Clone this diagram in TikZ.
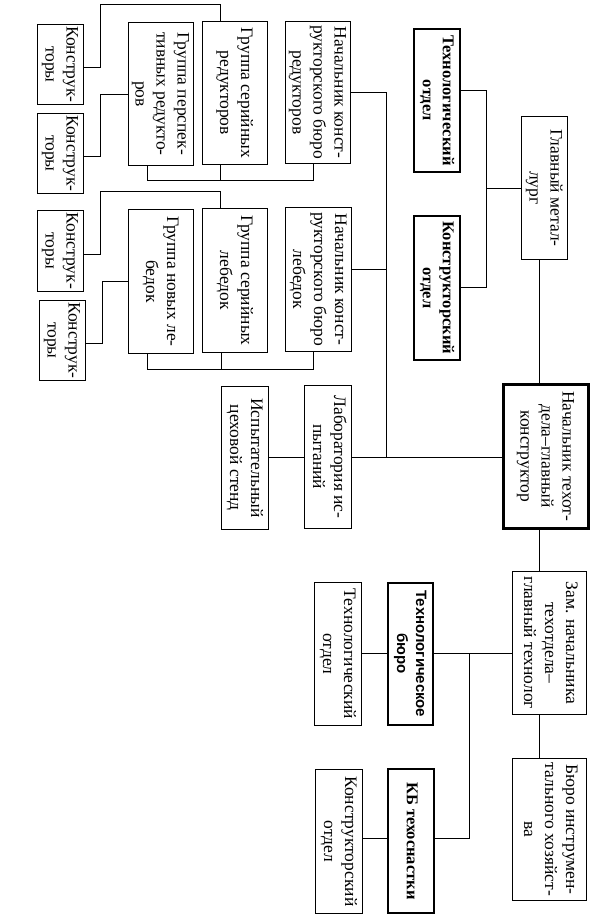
\documentclass[tikz,border=0pt]{standalone}
\usepackage{fontspec}
\setmainfont{Liberation Serif}
\newfontfamily\sansbold{Liberation Sans}
\newcommand{\vt}[1]{\rotatebox{-90}{\begin{tabular}{@{}c@{}}#1\end{tabular}}}
\begin{document}
\begin{tikzpicture}[x=1pt,y=-1pt,
  box/.style={draw, line width=0.8pt, inner sep=0pt, anchor=north west, font=\fontsize{17.5}{21}\selectfont},
  thickbox/.style={box, line width=1.8pt, font=\fontsize{16.5}{20}\selectfont\bfseries},
  mainbox/.style={box, line width=2.6pt},
  wire/.style={line width=0.8pt}]
\useasboundingbox (0,0) rectangle (596,924);
% ---- reducers section
\node[box, minimum width=46, minimum height=80] (k1) at (37,24) {\vt{Конструк-\\торы}};
\node[box, minimum width=46, minimum height=80] (k2) at (37,113) {\vt{Конструк-\\торы}};
\node[box, minimum width=65, minimum height=143] (gp) at (128,22) {\vt{Группа перспек-\\тивных редукто-\\ров}};
\node[box, minimum width=65, minimum height=143] (gs) at (202,21) {\vt{Группа серийных\\редукторов}};
\node[box, minimum width=65, minimum height=142] (nr) at (285,21) {\vt{Начальник конст-\\рукторского бюро\\редукторов}};
\node[thickbox, minimum width=46, minimum height=143] (to1) at (413,28) {\vt{Технологический\\отдел}};
\node[box, minimum width=46, minimum height=143] (gm) at (521,116) {\vt{Главный метал-\\лург}};
\node[thickbox, minimum width=46, minimum height=144] (ko1) at (413,215) {\vt{Конструкторский\\отдел}};
% ---- winches section
\node[box, minimum width=46, minimum height=81] (k3) at (37,210) {\vt{Конструк-\\торы}};
\node[box, minimum width=46, minimum height=80] (k4) at (39,300) {\vt{Конструк-\\торы}};
\node[box, minimum width=65, minimum height=144] (gn) at (128,209) {\vt{Группа новых ле-\\бедок}};
\node[box, minimum width=65, minimum height=144] (gsl) at (202,208) {\vt{Группа серийных\\лебедок}};
\node[box, minimum width=66, minimum height=144] (nl) at (285,207) {\vt{Начальник конст-\\рукторского бюро\\лебедок}};
% ---- middle
\node[box, minimum width=47, minimum height=143] (lab) at (304,385) {\vt{Лаборатория ис-\\пытаний}};
\node[box, minimum width=47, minimum height=143] (ist) at (221,386) {\vt{Испытательный\\цеховой стенд}};
\node[mainbox, minimum width=85, minimum height=144] (nt) at (502,383) {\vt{Начальник техот-\\дела–главный\\конструктор}};
% ---- technologist section
\node[box, minimum width=74, minimum height=143] (zam) at (512,571) {\vt{Зам. начальника\\техотдела–\\главный технолог}};
\node[thickbox, minimum width=45, minimum height=142, font=\fontsize{15}{19}\selectfont\sansbold\bfseries] (tb) at (387,582) {\vt{Технологическое\\бюро}};
\node[box, minimum width=47, minimum height=143] (to2) at (314,582) {\vt{Технологический\\отдел}};
\node[thickbox, minimum width=46, minimum height=144] (kb) at (387,768) {\vt{КБ техоснастки}};
\node[box, minimum width=47, minimum height=144] (ko2) at (315,769) {\vt{Конструкторский\\отдел}};
\node[box, minimum width=74, minimum height=142] (bi) at (512,758) {\vt{Бюро инструмен-\\тального хозяйст-\\ва}};
% ---- coordinates
\coordinate (sp) at (539,0);
\coordinate (m1) at (486,90);
\coordinate (m2) at (486,287);
\coordinate (v1) at (386,457);
\coordinate (v2) at (386,269);
\coordinate (rA) at (313,180);
\coordinate (rB) at (147,180);
\coordinate (rC) at (220,180);
\coordinate (rT1) at (220,4);
\coordinate (rT2) at (100,4);
\coordinate (rT3) at (100,67);
\coordinate (rL1) at (100,94);
\coordinate (rL2) at (100,156);
\coordinate (lA) at (313,369);
\coordinate (lB) at (147,369);
\coordinate (lC) at (221,369);
\coordinate (lT1) at (220,191);
\coordinate (lT2) at (100,191);
\coordinate (lT3) at (100,254);
\coordinate (lL1) at (102,281);
\coordinate (lL2) at (102,343);
\coordinate (q1) at (469,653);
\coordinate (q2) at (469,838);
% ---- connectors
\draw[wire] (gm.south -| sp) -- (nt.north -| sp);
\draw[wire] (nt.south -| sp) -- (zam.north -| sp);
\draw[wire] (zam.south -| sp) -- (bi.north -| sp);
\draw[wire] (to1.east |- m1) -- (m1) -- (m2) -- (ko1.east |- m2);
\draw[wire] (gm.west) -- (gm.west -| m1);
\draw[wire] (nr.east) -| (v1);
\draw[wire] (nl.east |- v2) -- (v2);
\draw[wire] (lab.east) -- (lab.east -| nt.west);
\draw[wire] (ist.east |- lab.west) -- (lab.west);
% reducers
\draw[wire] (nr.south -| rA) -- (rA) -- (rB) -- (gp.south -| rB);
\draw[wire] (rC) -- (gs.south -| rC);
\draw[wire] (gs.north -| rT1) -- (rT1) -- (rT2) -- (rT3) -- (k1.east |- rT3);
\draw[wire] (gp.west |- rL1) -- (rL1) -- (rL2) -- (k2.east |- rL2);
% winches
\draw[wire] (nl.south -| lA) -- (lA) -- (lB) -- (gn.south -| lB);
\draw[wire] (lC) -- (gsl.south -| lC);
\draw[wire] (gsl.north -| lT1) -- (lT1) -- (lT2) -- (lT3) -- (k3.east |- lT3);
\draw[wire] (gn.west |- lL1) -- (lL1) -- (lL2) -- (k4.east |- lL2);
% technologist
\draw[wire] (tb.east |- q1) -- (zam.west |- q1);
\draw[wire] (to2.east |- q1) -- (tb.west |- q1);
\draw[wire] (q1) -- (q2) -- (kb.east |- q2);
\draw[wire] (ko2.east |- q2) -- (kb.west |- q2);
\end{tikzpicture}
\end{document}
